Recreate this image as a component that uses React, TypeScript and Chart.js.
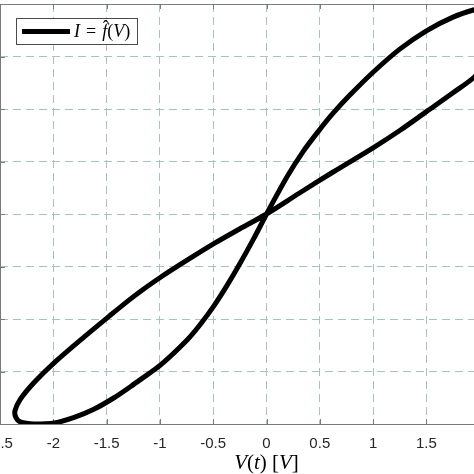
import React, { useEffect, useRef } from "react";
import { Chart, registerables } from "chart.js";
Chart.register(...registerables);

// Loop: origin -> steep upper-right branch -> right turn -> shallow branch back
// -> shallow lower-left branch -> left turn -> steep lower-left branch -> origin
const voltage = [
  0, 0.19, 0.34, 0.5, 0.625, 0.78, 1.0, 1.25, 1.5, 1.75, 1.95,
  2.1, 2.22, 2.31, 2.35, 2.33, 2.25, 2.12,
  1.95, 1.75, 1.5, 1.25, 1.0, 0.625, 0.31,
  0, -0.275, -0.49, -0.745, -0.99, -1.18, -1.29, -1.46, -1.71, -1.99,
  -2.18, -2.31, -2.36, -2.35, -2.31, -2.18, -1.99, -1.81, -1.62, -1.43,
  -1.27, -1.18, -0.99, -0.745, -0.62, -0.49, -0.37, -0.245, -0.12, 0,
];
const current = [
  0, 0.7, 1.18, 1.61, 1.92, 2.26, 2.7, 3.14, 3.49, 3.75, 3.89,
  3.95, 3.96, 3.89, 3.75, 3.56, 3.3, 3.0,
  2.61, 2.31, 1.95, 1.59, 1.26, 0.8, 0.4,
  0, -0.31, -0.56, -0.88, -1.2, -1.47, -1.64, -1.92, -2.34, -2.83,
  -3.21, -3.53, -3.75, -3.88, -3.96, -4.0, -3.98, -3.88, -3.72, -3.5,
  -3.28, -3.15, -2.87, -2.4, -2.1, -1.74, -1.36, -0.93, -0.47, 0,
];

const xRange = [-2.5, 2.5];
const xStep = 0.5;
const yRange = [-4, 4];
const yStep = 1;

const seriesLabel = "I = f̂(V)";
// [text, italic, hat]
const legendParts: [string, boolean, boolean][] = [
  ["I", true, false],
  ["\u2004=\u2004", false, false],
  ["f", true, true],
  ["(", false, false],
  ["V", true, false],
  [")", false, false],
];
const xLabelParts: [string, boolean, boolean][] = [
  ["V", true, false],
  ["(", false, false],
  ["t", true, false],
  [")", false, false],
  [" ", false, false],
  ["[", false, false],
  ["V", true, false],
  ["]", false, false],
];

const SERIF = '"Liberation Serif", "DejaVu Serif", serif';
const SANS = '"Liberation Sans", Arial, sans-serif';
const BOX = "#7a7a7a";
const GRID = "#a6c4bf";

function drawParts(
  ctx: CanvasRenderingContext2D,
  parts: [string, boolean, boolean][],
  x: number,
  baseline: number,
  size: number,
  align: "left" | "center"
) {
  ctx.save();
  ctx.textBaseline = "alphabetic";
  ctx.textAlign = "left";
  ctx.fillStyle = "#000";
  let total = 0;
  const widths = parts.map(([t, it]) => {
    ctx.font = `${it ? "italic " : ""}${size}px ${SERIF}`;
    const w = ctx.measureText(t).width;
    total += w;
    return w;
  });
  let cx = align === "center" ? x - total / 2 : x;
  parts.forEach(([t, it, hat], i) => {
    ctx.font = `${it ? "italic " : ""}${size}px ${SERIF}`;
    ctx.fillText(t, cx, baseline);
    if (hat) {
      ctx.font = `${size}px ${SERIF}`;
      const hw = ctx.measureText("ˆ").width;
      ctx.fillText("ˆ", cx + widths[i] * 0.7 - hw / 2, baseline - size * 0.2);
    }
    cx += widths[i];
  });
  ctx.restore();
}

const decorPlugin = {
  id: "matlabDecor",
  beforeDatasetsDraw(chart: any) {
    const { ctx, chartArea: a, scales } = chart;
    ctx.save();
    ctx.strokeStyle = BOX;
    ctx.lineWidth = 1;
    ctx.setLineDash([]);
    ctx.beginPath();
    // inward tick marks
    scales.x.ticks.forEach((t: any) => {
      const px = Math.round(scales.x.getPixelForValue(t.value)) + 0.5;
      ctx.moveTo(px, a.bottom);
      ctx.lineTo(px, a.bottom - 5);
      ctx.moveTo(px, a.top);
      ctx.lineTo(px, a.top + 5);
    });
    scales.y.ticks.forEach((t: any) => {
      const py = Math.round(scales.y.getPixelForValue(t.value)) + 0.5;
      ctx.moveTo(a.left, py);
      ctx.lineTo(a.left + 5, py);
      ctx.moveTo(a.right, py);
      ctx.lineTo(a.right - 5, py);
    });
    ctx.stroke();
    ctx.strokeRect(Math.round(a.left) + 0.5, Math.round(a.top) + 0.5, Math.round(a.right - a.left), Math.round(a.bottom - a.top));
    ctx.restore();
  },
  afterDraw(chart: any) {
    const { ctx, chartArea: a } = chart;
    // legend
    const lx = a.left + 16;
    const ly = a.top + 14;
    const lw = 121;
    const lh = 26;
    ctx.save();
    ctx.fillStyle = "#fff";
    ctx.fillRect(lx, ly, lw, lh);
    ctx.strokeStyle = "#4a4a4a";
    ctx.lineWidth = 1;
    ctx.strokeRect(Math.round(lx) + 0.5, Math.round(ly) + 0.5, lw, lh);
    ctx.strokeStyle = "#000";
    ctx.lineWidth = 5;
    ctx.beginPath();
    ctx.moveTo(lx + 6, ly + 13.5);
    ctx.lineTo(lx + 54, ly + 13.5);
    ctx.stroke();
    ctx.restore();
    drawParts(ctx, legendParts, lx + 58, ly + 18.5, 18, "left");
    // x-axis label
    const cx = chart.scales.x.getPixelForValue(0);
    drawParts(ctx, xLabelParts, cx, a.bottom + 44.5, 21, "center");
  },
};

export default function App() {
  const ref = useRef<HTMLCanvasElement | null>(null);
  useEffect(() => {
    if (!ref.current) return;
    const chart = new Chart(ref.current, {
      type: "scatter",
      data: {
        datasets: [
          {
            label: seriesLabel,
            data: voltage.map((v, i) => ({ x: v, y: current[i] })),
            showLine: true,
            borderColor: "#000",
            backgroundColor: "#000",
            borderWidth: 5,
            pointRadius: 0,
            tension: 0.3,
            borderCapStyle: "round",
            borderJoinStyle: "round",
          },
        ],
      },
      options: {
        animation: false,
        responsive: true,
        maintainAspectRatio: false,
        layout: { padding: { left: 0, top: 20, right: 27, bottom: 0 } },
        plugins: { legend: { display: false }, tooltip: { enabled: false } },
        scales: {
          x: {
            type: "linear",
            min: xRange[0],
            max: xRange[1],
            afterFit: (s: any) => {
              s.height = 80;
            },
            ticks: {
              stepSize: xStep,
              autoSkip: false,
              maxRotation: 0,
              padding: 11,
              color: "#262626",
              font: { family: SANS, size: 15 },
              callback: (v: any) => String(Math.round(Number(v) * 10) / 10),
            },
            grid: { color: GRID, lineWidth: 1, drawTicks: false },
            border: { display: false, dash: [8, 5] },
          },
          y: {
            type: "linear",
            min: yRange[0],
            max: yRange[1],
            afterFit: (s: any) => {
              s.width = 60;
            },
            ticks: {
              stepSize: yStep,
              padding: 8,
              color: "#262626",
              font: { family: SANS, size: 15 },
            },
            grid: { color: GRID, lineWidth: 1, drawTicks: false },
            border: { display: false, dash: [8, 5] },
          },
        },
      },
      plugins: [decorPlugin],
    } as any);
    return () => chart.destroy();
  }, []);
  return (
    <div
      style={{
        position: "fixed",
        left: 0,
        top: 0,
        width: 474,
        height: 474,
        overflow: "hidden",
        background: "#fff",
      }}
    >
      <div style={{ position: "absolute", left: -60, top: -16, width: 620, height: 520 }}>
        <canvas ref={ref} />
      </div>
    </div>
  );
}
